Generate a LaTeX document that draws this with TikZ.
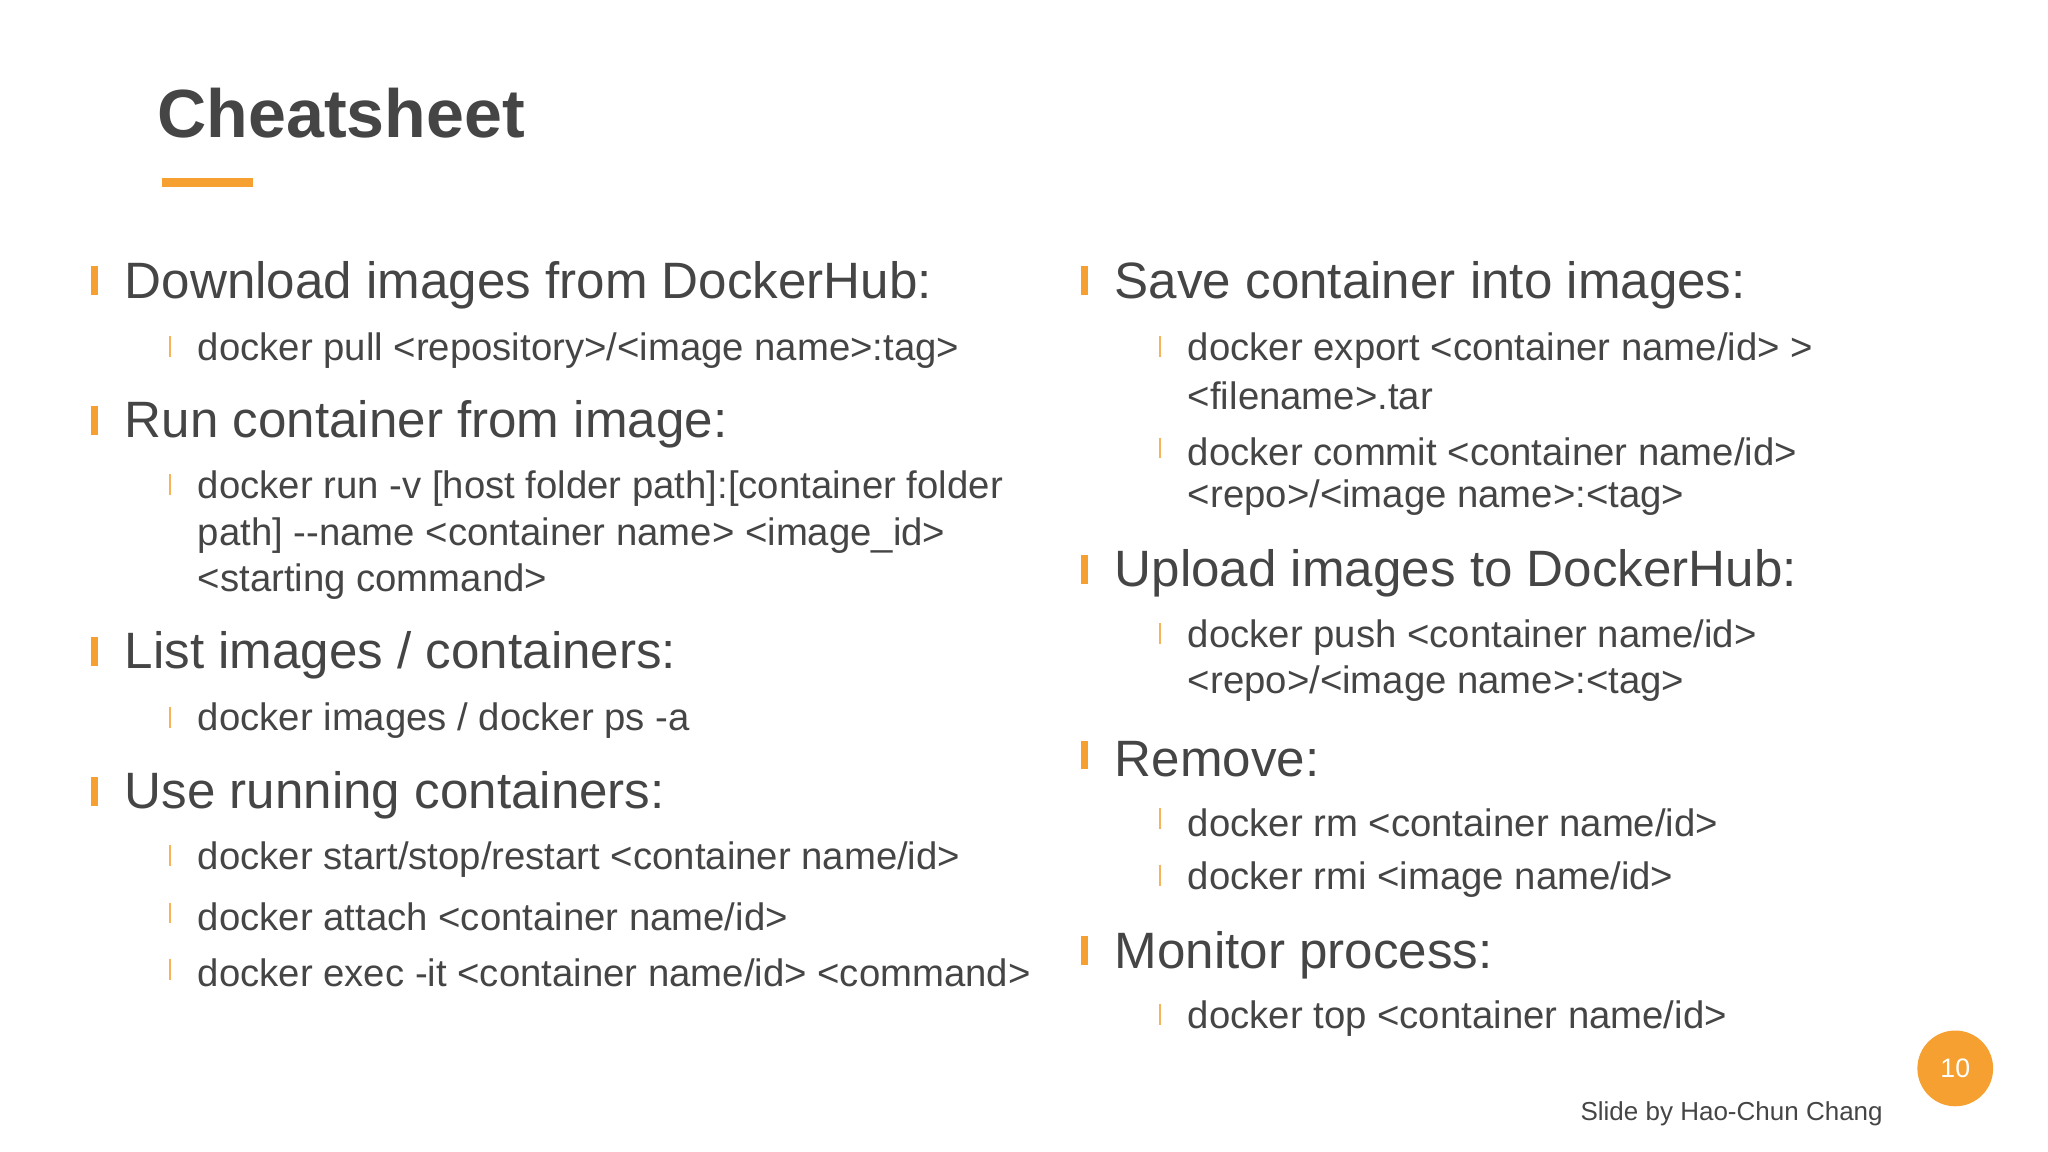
\documentclass[tikz,border=0pt]{standalone}
\usepackage{fontspec}
\setmainfont{Liberation Sans}
\definecolor{txt}{HTML}{454545}
\definecolor{org}{HTML}{F5A030}
\begin{document}
\begin{tikzpicture}[x=0.013061cm,y=-0.013061cm,
  hd/.style={anchor=west,inner sep=0,yshift=-0.04cm,text=txt,font=\fontsize{14.55}{17}\selectfont},
  sb/.style={anchor=west,inner sep=0,yshift=-0.04cm,text=txt,font=\fontsize{10.9}{13}\selectfont},
  hbar/.style={org,line width=2pt},
  sbar/.style={org!80,line width=0.7pt}]
\useasboundingbox (0,0) rectangle (1568,882);
\node[anchor=west,inner sep=0,text=txt,font=\bfseries\fontsize{19.4}{23}\selectfont] (title) at (120,87) {Cheatsheet};
\draw[org,line width=2.5pt] (124,140) -- (194,140);
% left column
\foreach \y/\t [count=\i] in {215/{Download images from DockerHub:},322/{Run container from image:},499/{List images / containers:},606/{Use running containers:}}{
  \node[hd] (lh\i) at (95,\y) {\t};
  \draw[hbar] (72,\y-11) -- (72,\y+11);}
\foreach \y/\b/\t [count=\i] in {265/1/{docker pull <repository>/<image name>:tag>},371/1/{docker run -v [host folder path]:[container folder},407/0/{path] -{}-name <container name> <image\_id>},442/0/{<starting command>},549/1/{docker images / docker ps -a},655/1/{docker start/stop/restart <container name/id>},699/1/{docker attach <container name/id>},742/1/{docker exec -it <container name/id> <command>}}{
  \node[sb] (ls\i) at (151,\y) {\t};
  \ifnum\b=1 \draw[sbar] (130,\y-8) -- (130,\y+8);\fi}
% right column
\foreach \y/\t [count=\i] in {215/{Save container into images:},436/{Upload images to DockerHub:},578/{Remove:},728/{Monitor process:}}{
  \node[hd] (rh\i) at (853,\y) {\t};
  \draw[hbar] (830,\y-11) -- (830,\y+11);}
\foreach \y/\b/\t [count=\i] in {265/1/{docker export <container name/id> >},300/0/{<filename>.tar},343/1/{docker commit <container name/id>},378/0/{<repo>/<image name>:<tag>},485/1/{docker push <container name/id>},520/0/{<repo>/<image name>:<tag>},627/1/{docker rm <container name/id>},670/1/{docker rmi <image name/id>},777/1/{docker top <container name/id>}}{
  \node[sb] (rs\i) at (909,\y) {\t};
  \ifnum\b=1 \draw[sbar] (888,\y-8) -- (888,\y+8);\fi}
\node[circle,fill=org,minimum size=58*0.013061cm,inner sep=0,text=white,font=\fontsize{7.6}{9}\selectfont] (pg) at (1497,818) {10};
\node[anchor=east,inner sep=0,text=txt,font=\fontsize{7.4}{9}\selectfont] (foot) at (1442,853) {Slide by Hao-Chun Chang};
\end{tikzpicture}
\end{document}
